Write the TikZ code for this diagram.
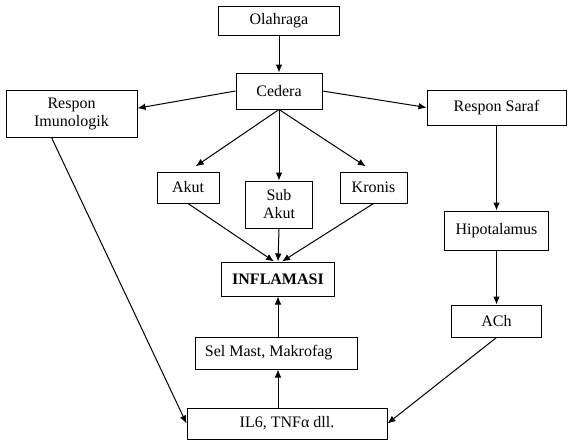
\documentclass[tikz,border=0pt]{standalone}
\usepackage{fontspec}
\setmainfont{Liberation Serif}
\usetikzlibrary{arrows.meta}
\tikzset{
 kotak/.style 2 args={draw,line width=0.75pt,align=center,inner sep=0pt,
   minimum width=#1*0.75pt,minimum height=#2*0.75pt,
   font=\fontsize{12}{13.5}\selectfont},
 panah/.style={line width=0.75pt,-{Latex[length=6pt,width=5pt]}}
}
\begin{document}
\begin{tikzpicture}[x=0.75pt,y=-0.75pt]
 \useasboundingbox (0,0) rectangle (574,446);
 % kotak-kotak
 \node[kotak={121}{29}] (olahraga) at (279,20.5) {Olahraga};
 \node[kotak={86}{36}] (cedera) at (279,91) {Cedera};
 \node[kotak={131}{47}] (respim) at (71.5,113.5) {Respon\\Imunologik};
 \node[kotak={139}{35}] (respsaraf) at (496.5,107.5) {Respon Saraf};
 \node[kotak={62}{31}] (akut) at (188,187.5) {Akut};
 \node[kotak={67}{47}] (subakut) at (279,204.5) {Sub\\Akut};
 \node[kotak={67}{31}] (kronis) at (373.5,187.5) {Kronis};
 \node[kotak={104}{39}] (hipo) at (496.5,230.5) {Hipotalamus};
 \node[kotak={113}{34}] (inflamasi) at (278,279) {\bfseries INFLAMASI};
 \node[kotak={90}{32}] (ach) at (496.5,321) {ACh};
 \node[kotak={162}{32}] (selmast) at (276,353) {Sel Mast, Makrofag\hspace*{11pt}};
 \node[kotak={200}{31}] (il6) at (287,423.5) {IL6, TNFα dll.};
 % panah
 \draw[panah] (olahraga) -- (cedera);
 \draw[panah] (cedera.west) -- ([yshift=4pt]respim.east);
 \draw[panah] (cedera.east) -- (respsaraf.west);
 \draw[panah,shorten >=7pt] (cedera.south) -- (akut.north);
 \draw[panah] (cedera.south) -- (subakut.north);
 \draw[panah,shorten >=7pt] (cedera.south) -- (kronis.north);
 \draw[panah] (akut.south) -- ([xshift=-3pt]inflamasi.north);
 \draw[panah] (subakut.south) -- (inflamasi.north);
 \draw[panah] (kronis.south) -- ([xshift=3pt]inflamasi.north);
 \draw[panah] ([xshift=-15pt]respim.south) -- (il6.west);
 \draw[panah] (respsaraf) -- (hipo);
 \draw[panah] (hipo) -- (ach);
 \draw[panah] (ach.south) -- (il6.east);
 \draw[panah] (il6.north -| inflamasi) -- (selmast.south -| inflamasi);
 \draw[panah] (selmast.north -| inflamasi) -- (inflamasi.south);
\end{tikzpicture}
\end{document}
